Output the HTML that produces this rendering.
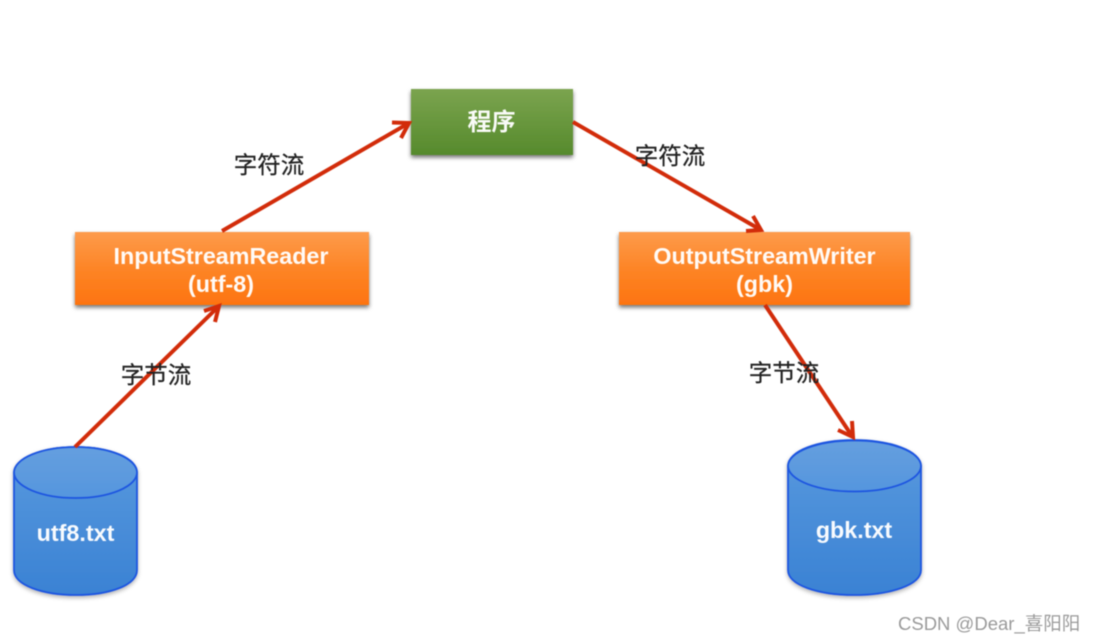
<!DOCTYPE html>
<html><head><meta charset="utf-8">
<style>
html,body{margin:0;padding:0;background:#fff;width:1094px;height:642px;overflow:hidden}
svg{display:block;filter:blur(0.5px)}
text{font-family:"Liberation Sans","Noto Sans CJK SC",sans-serif}
.w{fill:#fff;font-weight:bold;font-size:23.300px;text-anchor:middle;fill-opacity:.96}
.l{fill:#222;font-size:23.500px;text-anchor:middle;font-family:"Noto Sans CJK SC",sans-serif;stroke:#222;stroke-width:.25}
.a{fill:none;stroke:#d22c0a;stroke-width:4}
</style></head><body>
<svg width="1094" height="642" viewBox="0 0 1094 642" xmlns="http://www.w3.org/2000/svg">
<defs>
<linearGradient id="o" x1="0" y1="0" x2="0" y2="1"><stop offset="0" stop-color="#fd9b4c"/><stop offset=".5" stop-color="#fd8526"/><stop offset="1" stop-color="#fd7410"/></linearGradient>
<linearGradient id="g" x1="0" y1="0" x2="0" y2="1"><stop offset="0" stop-color="#7ba44f"/><stop offset="1" stop-color="#568a2c"/></linearGradient>
<linearGradient id="b" x1="0" y1="0" x2="0" y2="1"><stop offset="0" stop-color="#5a9ade"/><stop offset="1" stop-color="#3a82d4"/></linearGradient>
<linearGradient id="t" x1="0" y1="0" x2="0" y2="1"><stop offset="0" stop-color="#659fdf"/><stop offset="1" stop-color="#5596de"/></linearGradient>
<filter id="s" x="-10%" y="-10%" width="120%" height="130%"><feDropShadow dx="0" dy="2.500" stdDeviation="2" flood-color="#000" flood-opacity=".55"/></filter>
<filter id="c" x="-10%" y="-10%" width="120%" height="120%"><feDropShadow dx="0" dy="2" stdDeviation="2" flood-color="#000" flood-opacity=".3"/></filter>
</defs>

<!-- boxes -->
<rect x="411" y="89" width="162" height="66" fill="url(#g)" filter="url(#s)"/>
<rect x="75" y="232" width="294" height="73" fill="url(#o)" filter="url(#s)"/>
<rect x="619" y="232" width="291" height="73" fill="url(#o)" filter="url(#s)"/>

<!-- cylinders -->
<g filter="url(#c)">
<path d="M14 473C14 458 42 447 76 447S137 458 137 473V570C137 585 110 595 76 595S14 585 14 570Z" fill="url(#b)" stroke="#1f55e0" stroke-width="1.8"/>
<ellipse cx="75.500" cy="472.500" rx="61.500" ry="25.500" fill="url(#t)" stroke="#1f55e0" stroke-width="1.800"/>
</g>
<g filter="url(#c)">
<path d="M788 466C788 451 818 440 854 440S921 451 921 466V570C921 585 890 595 854 595S788 585 788 570Z" fill="url(#b)" stroke="#1f55e0" stroke-width="1.8"/>
<ellipse cx="854.500" cy="466" rx="66.500" ry="25.500" fill="url(#t)" stroke="#1f55e0" stroke-width="1.800"/>
</g>

<!-- arrows -->
<path class="a" d="M222 231L409 123"/>
<path class="a" d="M392 122.500L409 123L401 138"/>
<path class="a" d="M75 447L218 307"/>
<path class="a" d="M204 311L219 306L215 322"/>
<path class="a" d="M573 122L761 230"/>
<path class="a" d="M746 231L761 230L753 216"/>
<path class="a" d="M765 305L852 436"/>
<path class="a" d="M838 430L853 437L852 421"/>

<!-- box labels -->
<text class="w" x="491.500" y="130" style="font-family:'Noto Sans CJK SC',sans-serif;font-size:24px">程序</text>
<text class="w" x="221" y="264">InputStreamReader</text>
<text class="w" x="221" y="292">(utf-8)</text>
<text class="w" x="764.500" y="264">OutputStreamWriter</text>
<text class="w" x="764.500" y="292">(gbk)</text>
<text class="w" x="75.500" y="541">utf8.txt</text>
<text class="w" x="854" y="538">gbk.txt</text>

<!-- connector labels -->
<text class="l" x="269" y="173">字符流</text>
<text class="l" x="670" y="164">字符流</text>
<text class="l" x="156" y="383">字节流</text>
<text class="l" x="784" y="381">字节流</text>

<!-- watermark -->
<text x="898" y="630" style="font-size:18.500px;fill:#9a9a9a;font-family:'Liberation Sans','Noto Sans CJK SC',sans-serif">CSDN @Dear_喜阳阳</text>
</svg>
</body></html>
